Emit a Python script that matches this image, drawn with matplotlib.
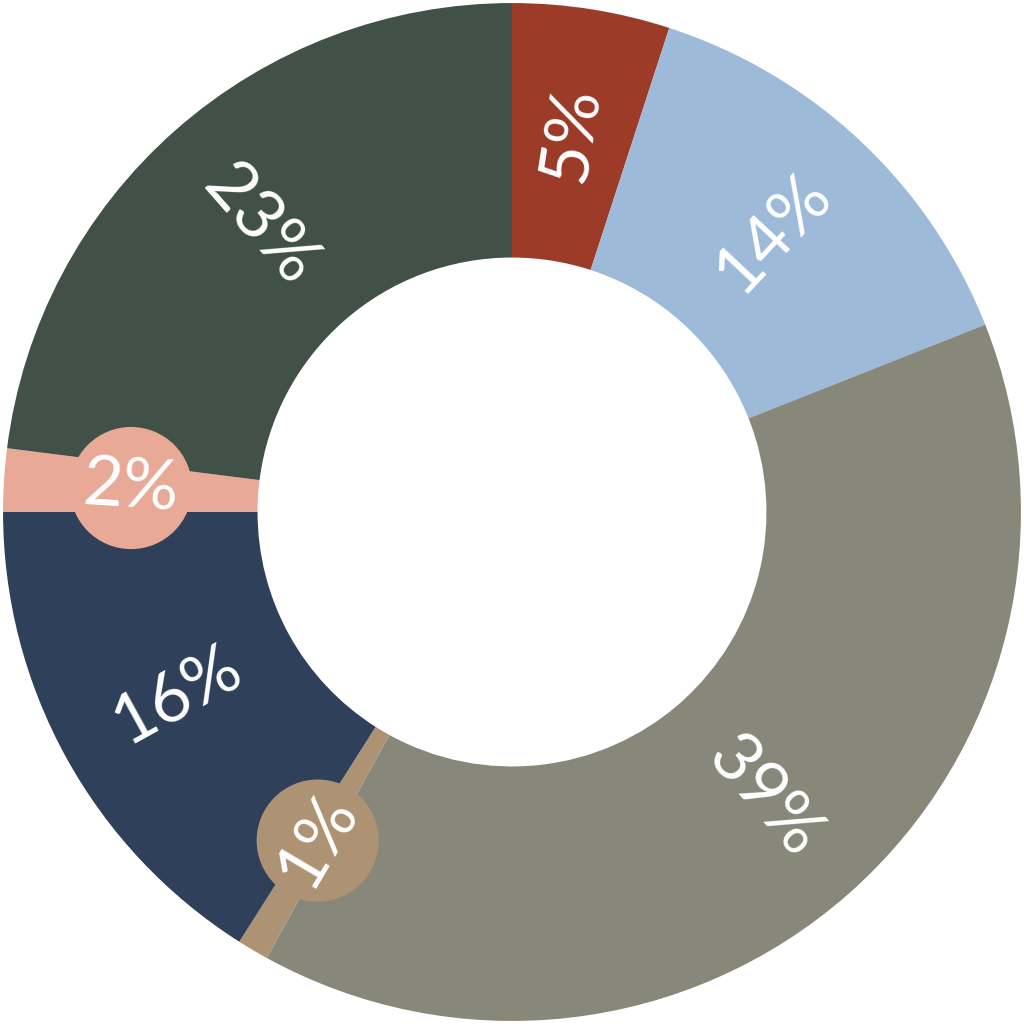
import matplotlib
matplotlib.use("Agg")
import matplotlib.pyplot as plt
import numpy as np
from matplotlib.patches import Circle

labels = ["5%", "14%", "39%", "1%", "16%", "2%", "23%"]
values = [5, 14, 39, 1, 16, 2, 23]
colors = ["#9B3B28", "#9DBAD9", "#87877A", "#AD9273", "#2E405A", "#E8A996", "#415147"]
small = [False, False, False, True, False, True, False]

fig = plt.figure(figsize=(10.24, 10.24), dpi=100)
ax = fig.add_axes([0, 0, 1, 1])
wedges, _ = ax.pie(values, colors=colors, startangle=90, counterclock=False,
                   radius=1.0, wedgeprops=dict(width=0.5, linewidth=0))

total = sum(values)
cum = 0
for v, lab, col, sm in zip(values, labels, colors, small):
    mid = (cum + v / 2) / total
    cum += v
    ang = 90 - mid * 360
    rad = np.deg2rad(ang)
    x, y = 0.75 * np.cos(rad), 0.75 * np.sin(rad)
    if sm:
        ax.add_patch(Circle((x, y), 0.12, color=col, zorder=3, lw=0))
    rot = ang
    while rot > 180:
        rot -= 360
    while rot <= -180:
        rot += 360
    if rot > 90:
        rot -= 180
    elif rot < -90:
        rot += 180
    ax.text(x, y, lab, ha="center", va="center", rotation=rot, rotation_mode="anchor",
            color="white", fontsize=50, family=["Lato", "DejaVu Sans"], weight="normal", zorder=4)

ax.set_xlim(-1.006, 1.006)
ax.set_ylim(-1.006, 1.006)
ax.set_aspect("equal")
ax.axis("off")
fig.savefig("out.png", dpi=100)
